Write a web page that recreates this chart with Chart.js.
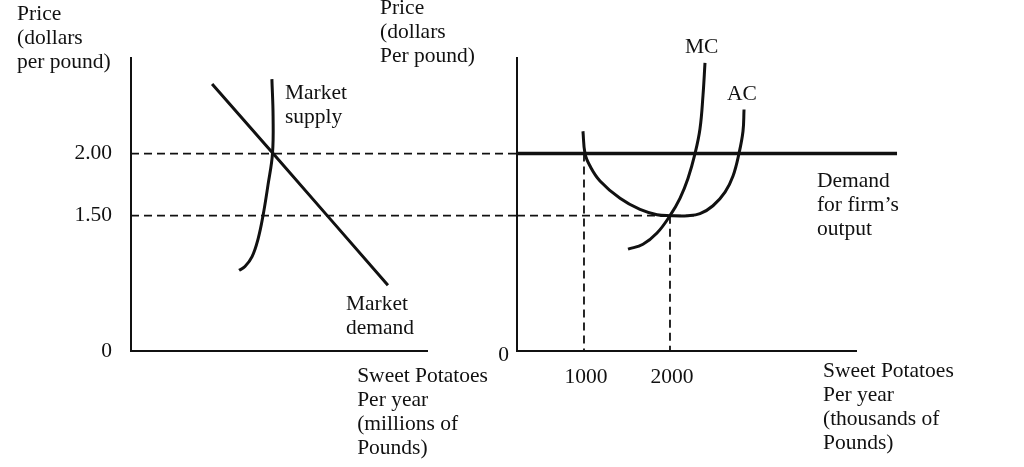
<!DOCTYPE html>
<html>
<head>
<meta charset="utf-8">
<script src="https://cdn.jsdelivr.net/npm/chart.js@4.4.1/dist/chart.umd.min.js"></script>
<style>
  html, body { margin: 0; padding: 0; background: #fff; }
  #wrap { position: relative; width: 1024px; height: 467px; }
  canvas { position: absolute; left: 0; top: 0; }
</style>
</head>
<body>
<div id="wrap">
  <canvas id="market" width="1024" height="467"></canvas>
  <canvas id="firm" width="1024" height="467"></canvas>
</div>
<script>
// price axis (shared by both panels, origin labelled 0)
const priceMin = 0.41;
const priceMax = 2.77;
const priceTicks = [2.0, 1.5];

// market panel, quantity in millions of pounds (no tick labels)
const marketQMax = 10;
const marketDemandQ = [2.74, 4.80, 8.68];
const marketDemandP = [2.56, 2.00, 0.94];
const marketSupplyQ = [4.76, 4.80, 4.78, 4.63, 4.46, 4.29, 4.09, 3.85, 3.65];
const marketSupplyP = [2.60, 2.30, 2.00, 1.75, 1.50, 1.31, 1.17, 1.09, 1.06];
const guideEndQ = 13.05; // dashed price lines run over to the firm panel

// firm panel, quantity in thousands of pounds
const firmQMin = 221;
const firmQMax = 4163;
const firmQTicks = [1000, 2000];
const firmDemandQ = [221, 4640];
const firmDemandP = [2.0, 2.0];
const acQ = [988, 1012, 1070, 1186, 1419, 1651, 1849, 2000, 2210, 2349, 2500, 2640, 2733, 2802, 2849, 2861];
const acP = [2.18, 2.00, 1.90, 1.78, 1.64, 1.55, 1.508, 1.50, 1.50, 1.516, 1.58, 1.69, 1.82, 2.00, 2.18, 2.355];
const mcQ = [1512, 1686, 1849, 2000, 2116, 2209, 2291, 2349, 2384, 2407];
const mcP = [1.23, 1.27, 1.36, 1.50, 1.64, 1.80, 2.00, 2.20, 2.47, 2.73];
const firmGuideQ = [1000, 2000];
const firmGuideP = [2.0, 1.5];
const firmGuideEndQ = 2310;

const INK = "#111";
const FONT_FAMILY = "'Liberation Serif', 'Times New Roman', serif";
const FONT_SIZE = 21.5;

function pts(xs, ys) {
  return xs.map((x, i) => ({ x: x, y: ys[i] }));
}

function curve(xs, ys, width) {
  return {
    data: pts(xs, ys),
    borderColor: INK,
    borderWidth: width || 3,
    pointRadius: 0,
    tension: 0.4,
    fill: false,
    clip: false,
  };
}

function dashed(xs, ys) {
  return {
    data: pts(xs, ys),
    borderColor: INK,
    borderWidth: 1.8,
    borderDash: [8, 5],
    pointRadius: 0,
    tension: 0,
    fill: false,
    clip: false,
  };
}

// draws multi-line text notes at data coordinates
const notesPlugin = {
  id: "notes",
  afterDraw(chart, args, opts) {
    const ctx = chart.ctx;
    const xs = chart.scales.x;
    const ys = chart.scales.y;
    ctx.save();
    ctx.font = FONT_SIZE + "px " + FONT_FAMILY;
    ctx.fillStyle = INK;
    ctx.textAlign = "left";
    ctx.textBaseline = "alphabetic";
    (opts.items || []).forEach((note) => {
      const px = xs.getPixelForValue(note.x);
      const py = ys.getPixelForValue(note.y);
      note.lines.forEach((line, i) => {
        ctx.fillText(line, px, py + i * 24);
      });
    });
    ctx.restore();
  },
};

function baseOptions(padding, yWidth, xHeight) {
  return {
    responsive: false,
    animation: false,
    events: [],
    layout: { padding: padding },
    plugins: { legend: { display: false }, tooltip: { enabled: false } },
    scales: {
      x: {
        type: "linear",
        grid: { display: false },
        border: { display: true, color: INK, width: 2 },
        afterFit: (s) => { s.height = xHeight; },
      },
      y: {
        type: "linear",
        min: priceMin,
        max: priceMax,
        grid: { display: false },
        border: { display: true, color: INK, width: 2 },
        afterFit: (s) => { s.width = yWidth; },
      },
    },
  };
}

function priceLabel(v) {
  return Math.abs(v - priceMin) < 1e-6 ? "0" : v.toFixed(2);
}

function setupMarket() {
  const options = baseOptions({ left: 0, top: 58, right: 597, bottom: 0 }, 131, 116);
  options.scales.x.min = 0;
  options.scales.x.max = marketQMax;
  options.scales.x.ticks = { display: false };
  options.scales.y.afterBuildTicks = (s) => {
    s.ticks = [priceMin].concat(priceTicks).map((v) => ({ value: v }));
  };
  options.scales.y.ticks = {
    color: INK,
    padding: 11,
    font: { family: FONT_FAMILY, size: FONT_SIZE },
    callback: priceLabel,
  };
  options.plugins.notes = {
    items: [
      { x: -3.85, y: 3.08, lines: ["Price", "(dollars", "per pound)"] },
      { x: 5.2, y: 2.443, lines: ["Market", "supply"] },
      { x: 7.26, y: 0.742, lines: ["Market", "demand"] },
      { x: 7.64, y: 0.161, lines: ["Sweet Potatoes", "Per year", "(millions of", "Pounds)"] },
    ],
  };

  return new Chart("market", {
    type: "line",
    plugins: [notesPlugin],
    data: {
      datasets: [
        dashed([0, guideEndQ], [priceTicks[0], priceTicks[0]]),
        dashed([0, guideEndQ], [priceTicks[1], priceTicks[1]]),
        curve(marketDemandQ, marketDemandP),
        curve(marketSupplyQ, marketSupplyP),
      ],
    },
    options: options,
  });
}

function setupFirm() {
  const options = baseOptions({ left: 0, top: 58, right: 168, bottom: 0 }, 517, 116);
  options.scales.x.min = firmQMin;
  options.scales.x.max = firmQMax;
  options.scales.x.afterBuildTicks = (s) => {
    s.ticks = firmQTicks.map((v) => ({ value: v }));
  };
  options.scales.x.ticks = {
    color: INK,
    padding: 5,
    labelOffset: 2,
    maxRotation: 0,
    font: { family: FONT_FAMILY, size: FONT_SIZE },
    callback: (v) => String(v),
  };
  options.scales.y.afterBuildTicks = (s) => {
    s.ticks = [{ value: priceMin }];
  };
  options.scales.y.ticks = {
    color: INK,
    padding: 0,
    labelOffset: 4,
    font: { family: FONT_FAMILY, size: FONT_SIZE },
    callback: priceLabel,
  };
  options.plugins.notes = {
    items: [
      { x: -1372, y: 3.121, lines: ["Price", "(dollars", "Per pound)"] },
      { x: 2174, y: 2.814, lines: ["MC"] },
      { x: 2663, y: 2.435, lines: ["AC"] },
      { x: 3709, y: 1.734, lines: ["Demand", "for firm\u2019s", "output"] },
      { x: 3779, y: 0.201, lines: ["Sweet Potatoes", "Per year", "(thousands of", "Pounds)"] },
    ],
  };

  return new Chart("firm", {
    type: "line",
    plugins: [notesPlugin],
    data: {
      datasets: [
        dashed([firmQMin, firmGuideEndQ], [priceTicks[1], priceTicks[1]]),
        dashed([firmGuideQ[0], firmGuideQ[0]], [firmGuideP[0], priceMin]),
        dashed([firmGuideQ[1], firmGuideQ[1]], [firmGuideP[1], priceMin]),
        curve(firmDemandQ, firmDemandP, 3.5),
        curve(acQ, acP),
        curve(mcQ, mcP),
      ],
    },
    options: options,
  });
}

setupMarket();
setupFirm();
</script>
</body>
</html>
